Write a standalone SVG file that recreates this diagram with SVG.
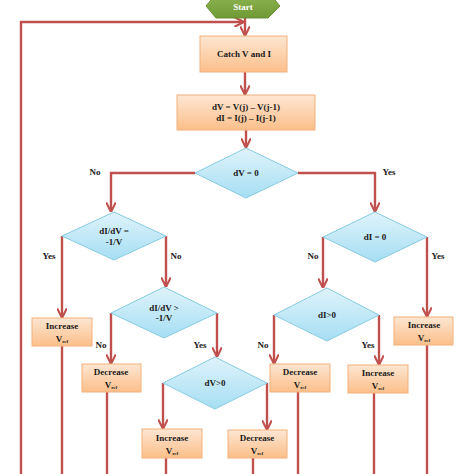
<svg xmlns="http://www.w3.org/2000/svg" width="474" height="474" viewBox="0 0 474 474">
<defs>
<linearGradient id="og" x1="0" y1="0" x2="0" y2="1">
<stop offset="0" stop-color="#fde6d2"/>
<stop offset="1" stop-color="#fbbf8a"/>
</linearGradient>
<linearGradient id="bg" x1="0" y1="0" x2="0" y2="1">
<stop offset="0" stop-color="#dff3fb"/>
<stop offset="1" stop-color="#a6def3"/>
</linearGradient>
<linearGradient id="gg" x1="0" y1="0" x2="0" y2="1">
<stop offset="0" stop-color="#8fb552"/>
<stop offset="1" stop-color="#6f9a36"/>
</linearGradient>
<marker id="ah" viewBox="0 0 10 10" refX="9" refY="5" markerWidth="4" markerHeight="4" orient="auto" markerUnits="strokeWidth">
<path d="M0,0 L10,5 L0,10" fill="none" stroke="#c0504d" stroke-width="2.2"/>
</marker>
</defs>
<style>
.box{fill:url(#og);stroke:#f2b07a;stroke-width:1}
.dia{fill:url(#bg);stroke:#86cbe2;stroke-width:1}
.ln{fill:none;stroke:#c0504d;stroke-width:2.4}
.t{font-family:"Liberation Serif",serif;font-weight:bold;font-size:9px;fill:#1a1a1a;text-anchor:middle}
.s{font-size:5px}
.lb{font-family:"Liberation Serif",serif;font-weight:bold;font-size:9px;fill:#1a1a1a;text-anchor:middle}
</style>
<rect width="474" height="474" fill="#ffffff"/>

<g id="connectors">
<polyline class="ln" points="21,474 21,22 243,22" marker-end="url(#ah)"/>
<line class="ln" x1="245" y1="18" x2="245" y2="35" marker-end="url(#ah)"/>
<line class="ln" x1="245" y1="72" x2="245" y2="94" marker-end="url(#ah)"/>
<line class="ln" x1="246" y1="130" x2="246" y2="147" marker-end="url(#ah)"/>
<polyline class="ln" points="195,173 111,173 111,211" marker-end="url(#ah)"/>
<polyline class="ln" points="298,173 375,173 375,211" marker-end="url(#ah)"/>
<polyline class="ln" points="62,236 62,317" marker-end="url(#ah)"/>
<polyline class="ln" points="166,236 166,286" marker-end="url(#ah)"/>
<polyline class="ln" points="111,313 111,363" marker-end="url(#ah)"/>
<polyline class="ln" points="217,313 217,356" marker-end="url(#ah)"/>
<polyline class="ln" points="163,383 163,428" marker-end="url(#ah)"/>
<polyline class="ln" points="267,383 267,429" marker-end="url(#ah)"/>
<polyline class="ln" points="323,237 323,287" marker-end="url(#ah)"/>
<polyline class="ln" points="427,237 427,316" marker-end="url(#ah)"/>
<polyline class="ln" points="274,315 274,363" marker-end="url(#ah)"/>
<polyline class="ln" points="379,315 379,364" marker-end="url(#ah)"/>
<line class="ln" x1="62" y1="346" x2="62" y2="474"/>
<line class="ln" x1="107" y1="392" x2="107" y2="474"/>
<line class="ln" x1="166" y1="458" x2="166" y2="474"/>
<line class="ln" x1="253" y1="458" x2="253" y2="474"/>
<line class="ln" x1="298" y1="392" x2="298" y2="474"/>
<line class="ln" x1="374" y1="393" x2="374" y2="474"/>
<line class="ln" x1="427" y1="345" x2="427" y2="474"/>
<text class="lb" x="95" y="175">No</text>
<text class="lb" x="389" y="175">Yes</text>
<text class="lb" x="49" y="259">Yes</text>
<text class="lb" x="176" y="259">No</text>
<text class="lb" x="313" y="259">No</text>
<text class="lb" x="438" y="259">Yes</text>
<text class="lb" x="101" y="348">No</text>
<text class="lb" x="200" y="348">Yes</text>
<text class="lb" x="263" y="348">No</text>
<text class="lb" x="368" y="348">Yes</text>
</g>

<g id="start">
<polygon points="206,6 216,-6 270,-6 280,6 268,18 216,18" fill="url(#gg)" stroke="#6a8f34" stroke-width="1"/>
<text class="t" x="243" y="10" style="fill:#ffffff">Start</text>
</g>
<g id="catch">
<rect class="box" x="200" y="36" width="87" height="36"/>
<text class="t" x="244" y="57">Catch V and I</text>
</g>
<g id="calc">
<rect class="box" x="177" y="95" width="138" height="35"/>
<text class="t" x="246" y="110">dV = V(j) – V(j-1)</text>
<text class="t" x="246" y="121">dI = I(j) – I(j-1)</text>
</g>
<g id="d_dv0">
<polygon class="dia" points="246,148 298,173 246,198 195,173"/>
<text class="t" x="246" y="176">dV = 0</text>
</g>
<g id="d_didv_eq">
<polygon class="dia" points="114,212 166,236 114,260 62,236"/>
<text class="t" x="114" y="234">dI/dV =</text>
<text class="t" x="114" y="245">-1/V</text>
</g>
<g id="d_di0">
<polygon class="dia" points="375,212 427,237 375,262 323,237"/>
<text class="t" x="375" y="240">dI = 0</text>
</g>
<g id="d_didv_gt">
<polygon class="dia" points="164,287 217,313 164,338 111,313"/>
<text class="t" x="164" y="311">dI/dV &gt;</text>
<text class="t" x="164" y="321">-1/V</text>
</g>
<g id="d_digt0">
<polygon class="dia" points="327,288 379,315 327,341 274,315"/>
<text class="t" x="327" y="318">dI&gt;0</text>
</g>
<g id="d_dvgt0">
<polygon class="dia" points="215,357 267,383 215,409 163,383"/>
<text class="t" x="215" y="386">dV&gt;0</text>
</g>
<g id="inc1">
<rect class="box" x="32" y="318" width="60" height="28"/>
<text class="t" x="62" y="329">Increase</text>
<text class="t" x="62" y="342">V<tspan class="s" dy="1">ref</tspan></text>
</g>
<g id="inc_right">
<rect class="box" x="394" y="317" width="59" height="28"/>
<text class="t" x="424" y="328">Increase</text>
<text class="t" x="424" y="341">V<tspan class="s" dy="1">ref</tspan></text>
</g>
<g id="dec1">
<rect class="box" x="82" y="364" width="59" height="28"/>
<text class="t" x="111" y="375">Decrease</text>
<text class="t" x="111" y="388">V<tspan class="s" dy="1">ref</tspan></text>
</g>
<g id="dec3">
<rect class="box" x="270" y="364" width="60" height="28"/>
<text class="t" x="300" y="375">Decrease</text>
<text class="t" x="300" y="388">V<tspan class="s" dy="1">ref</tspan></text>
</g>
<g id="inc4">
<rect class="box" x="348" y="365" width="60" height="28"/>
<text class="t" x="378" y="376">Increase</text>
<text class="t" x="378" y="389">V<tspan class="s" dy="1">ref</tspan></text>
</g>
<g id="inc2">
<rect class="box" x="142" y="429" width="60" height="29"/>
<text class="t" x="172" y="441">Increase</text>
<text class="t" x="172" y="454">V<tspan class="s" dy="1">ref</tspan></text>
</g>
<g id="dec2">
<rect class="box" x="228" y="430" width="59" height="28"/>
<text class="t" x="257" y="441">Decrease</text>
<text class="t" x="257" y="454">V<tspan class="s" dy="1">ref</tspan></text>
</g>
</svg>
